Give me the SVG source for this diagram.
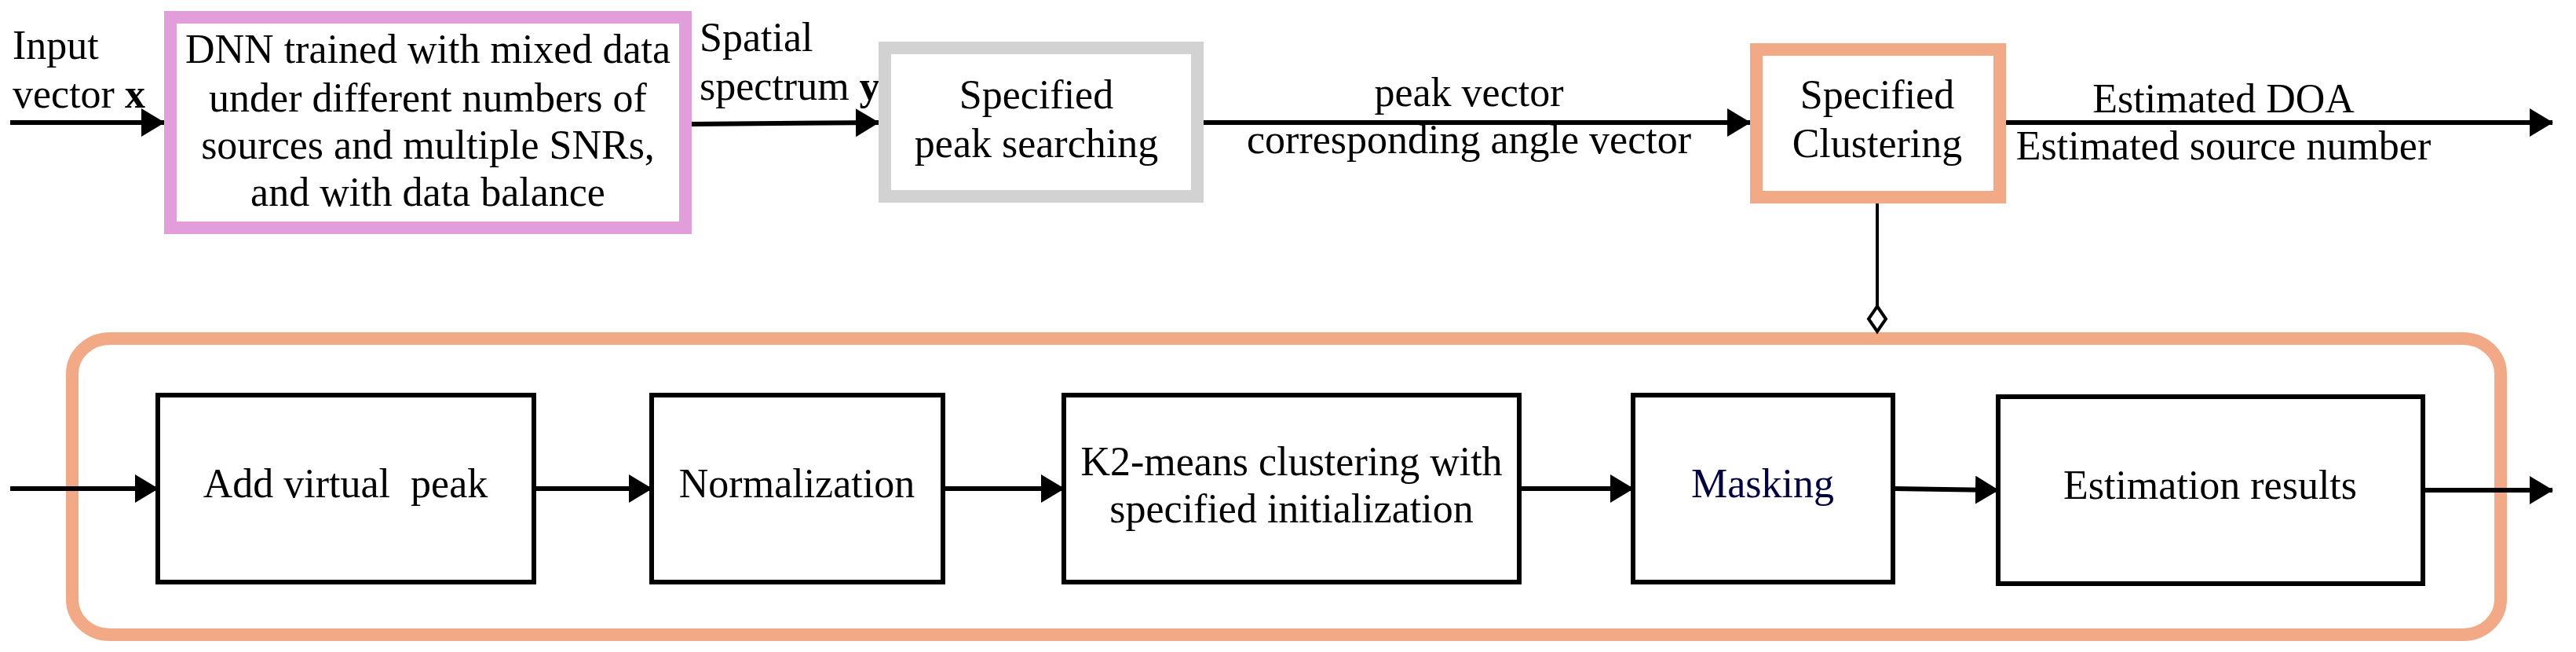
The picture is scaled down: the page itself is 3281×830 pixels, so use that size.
<svg xmlns="http://www.w3.org/2000/svg" width="3281" height="830" viewBox="0 0 3281 830" font-family="'Liberation Serif', 'DejaVu Serif', serif">
<style>
text{font-family:'Liberation Serif','DejaVu Serif',serif;font-size:52px;fill:#000}
.c{text-anchor:middle}
.ln{stroke:#000;stroke-width:6;fill:none}
.bx{fill:#fff;stroke:#000;stroke-width:6}
</style>
<defs>
<marker id="ah" markerUnits="userSpaceOnUse" markerWidth="30" markerHeight="36" refX="29" refY="18" orient="auto">
<path d="M0,0 L30,18 L0,36 Z" fill="#000"/>
</marker>
</defs>
<rect width="3281" height="830" fill="#fff"/>
<g id="container">
<rect x="92" y="431" width="3093" height="377" rx="48" ry="45" fill="none" stroke="#f1aa85" stroke-width="16"/>
</g>
<g id="connectors">
<line class="ln" x1="13" y1="156" x2="209" y2="156" marker-end="url(#ah)"/>
<line class="ln" x1="881" y1="158" x2="1119" y2="156" marker-end="url(#ah)"/>
<line class="ln" x1="1533" y1="156" x2="2229" y2="156" marker-end="url(#ah)"/>
<line class="ln" x1="2555" y1="156" x2="3251" y2="156" marker-end="url(#ah)"/>
<line stroke="#000" stroke-width="4" x1="2391" y1="259" x2="2391" y2="390"/>
<path d="M2391,390 L2402,406 L2391,422 L2380,406 Z" fill="#fff" stroke="#000" stroke-width="4"/>
<line class="ln" x1="13" y1="622" x2="201" y2="622" marker-end="url(#ah)"/>
<line class="ln" x1="680" y1="622" x2="830" y2="622" marker-end="url(#ah)"/>
<line class="ln" x1="1201" y1="622" x2="1355" y2="622" marker-end="url(#ah)"/>
<line class="ln" x1="1935" y1="622" x2="2080" y2="622" marker-end="url(#ah)"/>
<line class="ln" x1="2411" y1="622" x2="2545" y2="624" marker-end="url(#ah)"/>
<line class="ln" x1="3086" y1="624" x2="3251" y2="624" marker-end="url(#ah)"/>
<text x="16" y="75">Input</text>
<text x="16" y="137">vector <tspan font-weight="bold">x</tspan></text>
<text x="891" y="65">Spatial</text>
<text x="891" y="127">spectrum <tspan font-weight="bold">y</tspan></text>
<text class="c" x="1871" y="135">peak vector</text>
<text class="c" x="1871" y="195">corresponding angle vector</text>
<text class="c" x="2832" y="143">Estimated DOA</text>
<text class="c" x="2832" y="203">Estimated source number</text>
</g>
<g id="dnn">
<rect x="217" y="22" width="656" height="268" fill="#fff" stroke="#e29edb" stroke-width="16"/>
<text class="c" x="545" y="80" font-size="48">DNN trained with mixed data</text>
<text class="c" x="545" y="142" font-size="48">under different numbers of</text>
<text class="c" x="545" y="202" font-size="48">sources and multiple SNRs,</text>
<text class="c" x="545" y="262" font-size="48">and with data balance</text>
</g>
<g id="peak">
<rect x="1127" y="61" width="398" height="189" fill="#fff" stroke="#d2d2d2" stroke-width="16"/>
<text class="c" x="1320" y="138">Specified</text>
<text class="c" x="1320" y="200">peak searching</text>
</g>
<g id="clustering">
<rect x="2237" y="63" width="310" height="188" fill="#fff" stroke="#f1aa85" stroke-width="16"/>
<text class="c" x="2391" y="138">Specified</text>
<text class="c" x="2391" y="200">Clustering</text>
</g>
<g id="addpeak">
<rect class="bx" x="201" y="503" width="479" height="238"/>
<text class="c" x="440" y="633" xml:space="preserve">Add virtual  peak</text>
</g>
<g id="norm">
<rect class="bx" x="830" y="503" width="371" height="238"/>
<text class="c" x="1015" y="633">Normalization</text>
</g>
<g id="kmeans">
<rect class="bx" x="1355" y="503" width="580" height="238"/>
<text class="c" x="1645" y="605">K2-means clustering with</text>
<text class="c" x="1645" y="665">specified initialization</text>
</g>
<g id="masking">
<rect class="bx" x="2080" y="503" width="331" height="238"/>
<text class="c" x="2245" y="633" style="fill:#000040">Masking</text>
</g>
<g id="results">
<rect class="bx" x="2545" y="505" width="541" height="238"/>
<text class="c" x="2815" y="635">Estimation results</text>
</g>
</svg>
